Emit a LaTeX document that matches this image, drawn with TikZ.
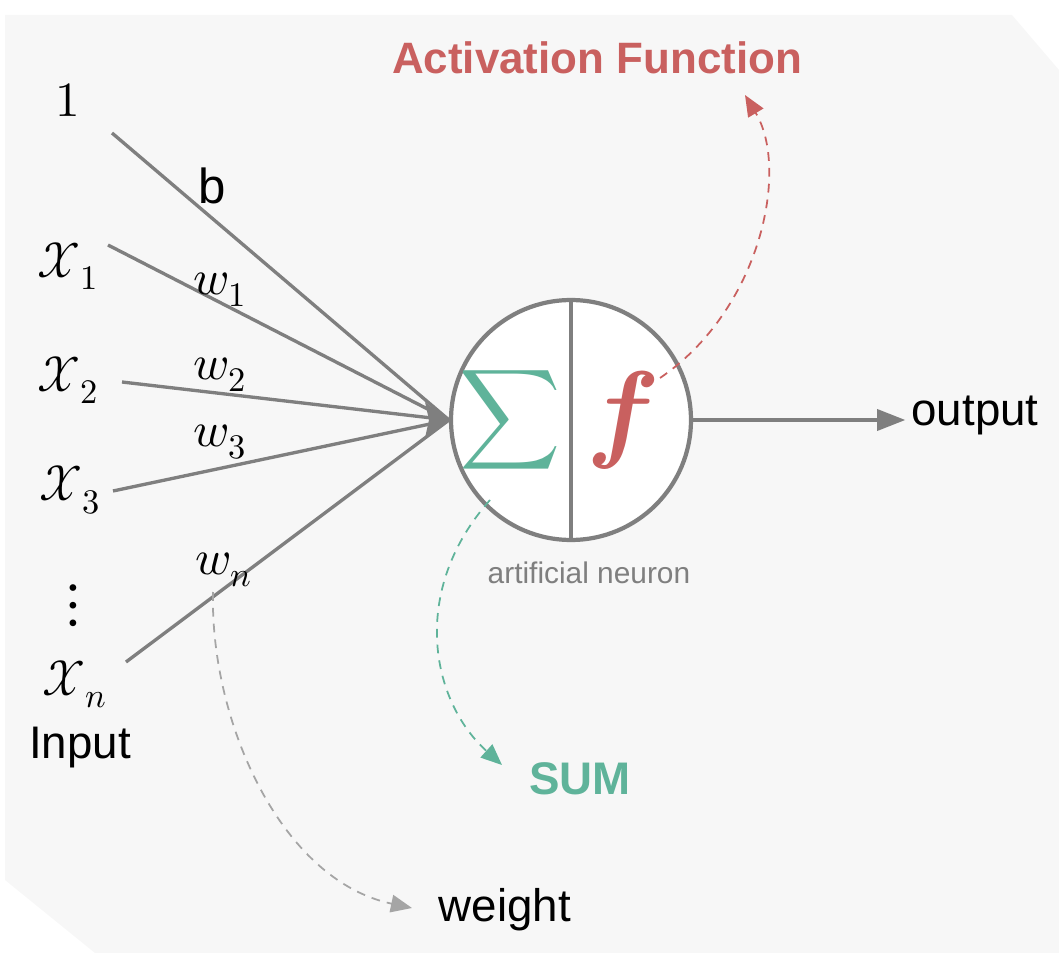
\documentclass[tikz,border=0pt]{standalone}
\usepackage{fontspec}
\setmainfont{Liberation Sans}
\usepackage{unicode-math}
\setmathfont{Latin Modern Math}
\usetikzlibrary{arrows.meta}
\definecolor{bg}{HTML}{F7F7F7}
\definecolor{ln}{HTML}{7F7F7F}
\definecolor{actred}{HTML}{C9605F}
\definecolor{sumteal}{HTML}{5FB39A}
\begin{document}
\begin{tikzpicture}[x=0.02cm,y=-0.02cm,
  inl/.style={ln,line width=1.9pt},
  lab/.style={font=\fontsize{26}{28}\selectfont},
  sym/.style={font=\fontsize{28}{30}\selectfont},
  dsh/.style={line width=1pt,dash pattern=on 5pt off 4pt}]
\useasboundingbox (0,0) rectangle (1059,953);
\fill[bg] (5,15) -- (1012,15) -- (1059,70) -- (1059,953) -- (95,953) -- (5,880) -- cycle;
% neuron
\node[circle,draw=ln,fill=white,line width=2.4pt,minimum size=4.8cm,inner sep=0] (n) at (571,420) {};
\draw[ln,line width=2.4pt] (n.north) -- (n.south);
\node[text=sumteal,font=\fontsize{40}{42}\selectfont] (sig) at (510,420) {$\displaystyle\sum$};
\node[text=actred,font=\fontsize{62}{64}\selectfont\bfseries] (f) at (622,420) {$\symbfit{f}$};
\coordinate (tip) at (449,420);
% inputs
\node[sym] (one) at (68,100) {$1$};
\node[sym] (x1) at (68,266) {$\mathcal{X}_1$};
\node[sym] (x2) at (68,380) {$\mathcal{X}_2$};
\node[sym] (x3) at (70,490) {$\mathcal{X}_3$};
\node[font=\fontsize{36}{38}\selectfont] (dots) at (73,606) {$\boldsymbol{\vdots}$};
\node[sym] (xn) at (75,684) {$\mathcal{X}_n$};
\node[lab] (inp) at (80,748) {Input};
\coordinate (s0) at (112,133);
\coordinate (s1) at (108,245);
\coordinate (s2) at (122,382);
\coordinate (s3) at (113,491);
\coordinate (sn) at (126,662);
\foreach \s in {s0,s1,s2,s3,sn} \draw[inl] (\s) -- (tip);
\fill[ln] (tip) -- ++(-24,-18) -- ++(4,18) -- ++(-4,18) -- cycle;
\node[sym] (b) at (212,186) {$\mathrm{b}$};
\node[sym] (w1) at (220,290) {$w_1$};
\node[sym] (w2) at (220,375) {$w_2$};
\node[sym] (w3) at (220,442) {$w_3$};
\node[sym] (wn) at (224,570) {$w_n$};
% output
\node[lab] (out) at (975,415) {output};
\draw[inl,-{Triangle[length=16pt,width=12pt]}] (n.east) -- (n.east -| out.west);
\node[text=ln,font=\fontsize{17}{19}\selectfont] (an) at (589,573) {artificial neuron};
\node[text=actred,font=\fontsize{25}{27}\selectfont\bfseries] (af) at (597,58) {Activation Function};
\node[text=sumteal,font=\fontsize{26}{28}\selectfont\bfseries] (sum) at (580,779) {SUM};
\node[lab] (wt) at (505,910) {weight};
\coordinate (fa) at (660,378);
\coordinate (sa) at (490,500);
\coordinate (wa) at (213,592);
\draw[actred,dsh,-{Triangle[length=12pt,width=10pt]}] (fa) .. controls (760,310) and (790,170) .. (745,95);
\draw[sumteal,dsh,-{Triangle[length=12pt,width=10pt]}] (sa) .. controls (410,590) and (430,700) .. (502,765);
\draw[ln!70,dsh,-{Triangle[length=12pt,width=10pt]}] (wa) .. controls (210,720) and (280,880) .. (412,908);
\end{tikzpicture}
\end{document}
